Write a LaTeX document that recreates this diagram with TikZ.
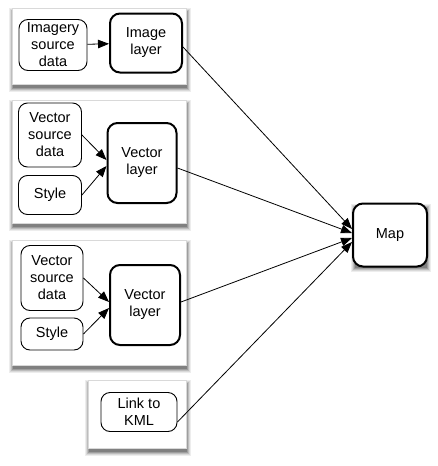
\documentclass[tikz,border=0pt]{standalone}
\usepackage{fontspec}
\setmainfont{Liberation Sans}
\usetikzlibrary{arrows.meta}
% soft shadow behind a panel, drawn as stacked grey frames
\newcommand{\panelshade}[4]{%
  \foreach \k/\c in {4/7,3/15,2/26,1/38,0/50}
    \fill[black!\c] ({#1+1-\k},{#2+4-\k}) rectangle ({#3+1+\k},{#4+4+\k});%
}
\tikzset{
  panel/.style={draw=black!15, fill=white, line width=0.5pt},
  srcbox/.style={draw, rounded corners=9pt, line width=0.9pt, align=center,
    inner sep=0pt, font=\fontsize{14.5}{17}\selectfont},
  layerbox/.style={srcbox, line width=2pt, rounded corners=10pt},
  feed/.style={-{Triangle[length=11pt,width=8.5pt]}, line width=0.8pt}
}
\begin{document}
\begin{tikzpicture}[x=1pt,y=-1pt]
  \useasboundingbox (0,0) rectangle (438,466);

  % Panels
  \panelshade{12}{8}{186}{84}
  \panelshade{12}{100}{186}{223}
  \panelshade{12}{240}{186}{365}
  \panelshade{88}{380}{186}{448}
  \path[panel] (12,8) rectangle (186,84);
  \path[panel] (12,100) rectangle (186,223);
  \path[panel] (12,240) rectangle (186,365);
  \path[panel] (88,380) rectangle (186,448);

  % Imagery panel
  \node[srcbox, minimum width=68pt, minimum height=51pt] (imgsrc) at (53,45) {Imagery\\source\\data};
  \node[layerbox, minimum width=72pt, minimum height=59pt] (imglayer) at (146,43) {Image\\layer};
  \draw[feed] (imgsrc) -- (imglayer);

  % First vector panel
  \node[srcbox, minimum width=63pt, minimum height=64pt] (vecsrcA) at (50,135) {Vector\\source\\data};
  \node[srcbox, minimum width=63pt, minimum height=39pt] (styleA) at (50,195) {Style};
  \node[layerbox, minimum width=69pt, minimum height=80pt] (veclayerA) at (142,163) {Vector\\layer};
  \draw[feed] (vecsrcA.east) -- ([yshift=3pt]veclayerA.west);
  \draw[feed] (styleA.east) -- ([yshift=-3pt]veclayerA.west);

  % Second vector panel
  \node[srcbox, minimum width=62pt, minimum height=65pt] (vecsrcB) at (52,278) {Vector\\source\\data};
  \node[srcbox, minimum width=62pt, minimum height=32pt] (styleB) at (52,334) {Style};
  \node[layerbox, minimum width=70pt, minimum height=80pt] (veclayerB) at (145,305) {Vector\\layer};
  \draw[feed] (vecsrcB.east) -- ([yshift=3pt]veclayerB.west);
  \draw[feed] (styleB.east) -- ([yshift=-3pt]veclayerB.west);

  % KML panel
  \node[srcbox, minimum width=76pt, minimum height=39pt] (kml) at (139,412) {Link to\\KML};

  % Map
  \panelshade{354}{204}{426}{264}
  \node[layerbox, minimum width=74pt, minimum height=63pt, fill=white] (map) at (390,235) {Map};

  % Layers into map
  \draw[feed] ([yshift=-4pt]imglayer.east) -- ([yshift=6pt]map.west);
  \draw[feed] ([yshift=-5pt]veclayerA.east) -- ([yshift=2pt]map.west);
  \draw[feed] ([yshift=3pt]veclayerB.east) -- ([yshift=-3pt]map.west);
  \draw[feed] ([yshift=-10pt]kml.east) -- ([yshift=-7pt]map.west);
\end{tikzpicture}
\end{document}
